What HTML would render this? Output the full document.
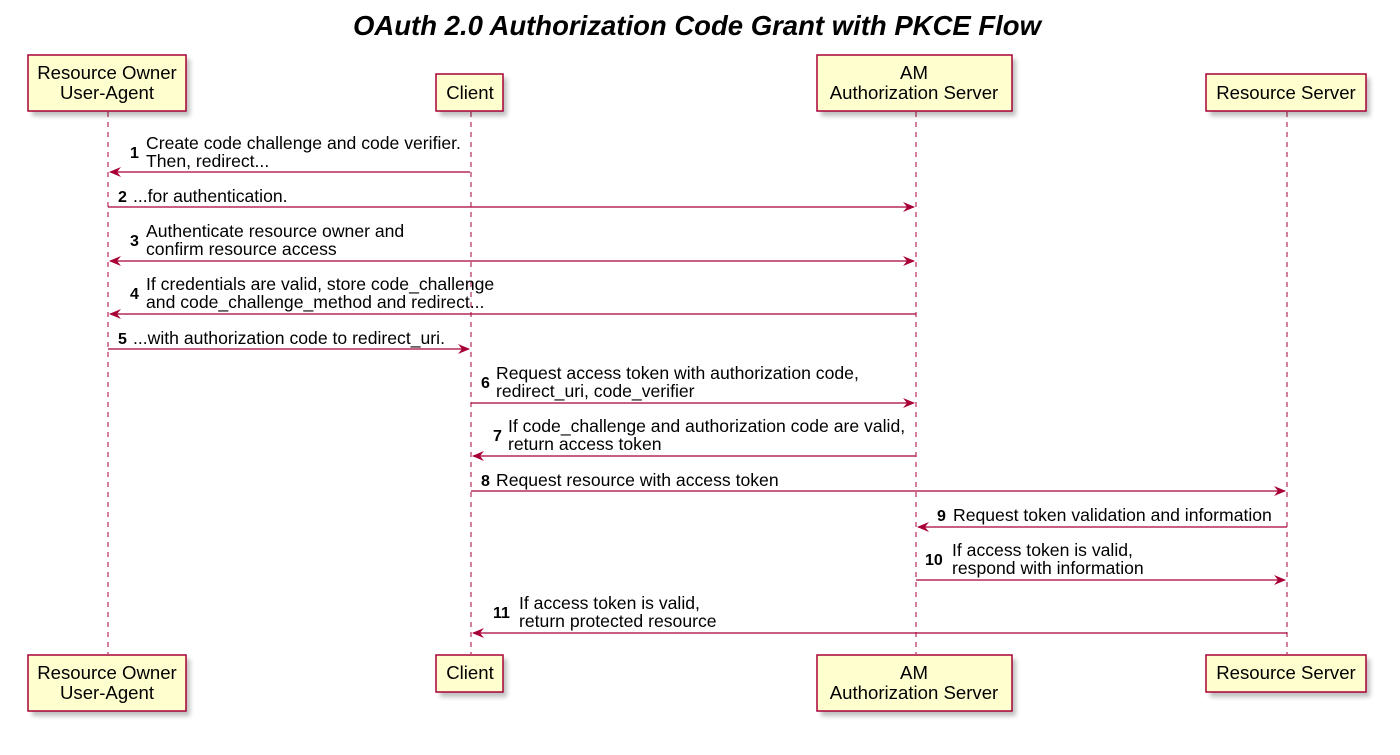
<!DOCTYPE html>
<html><head><meta charset="utf-8"><style>
body{margin:0;background:#fff}
svg{display:block;font-family:"Liberation Sans",Arial,sans-serif}
.t{font-size:17.6px;fill:#000}
.n{font-size:16px;font-weight:bold;fill:#000}
.box{fill:#FEFECE;stroke:#A80036;stroke-width:1.5}
.sh{fill:#000;opacity:0.25;filter:url(#b)}
.ll{stroke:#A80036;stroke-width:1;stroke-dasharray:5,5}
.ar{stroke:#A80036;stroke-width:1.2}
.hd{fill:#A80036}
.pt{font-size:18.6px;text-anchor:middle}
</style></head><body>
<svg width="1400" height="755" viewBox="0 0 1400 755">
<defs><filter id="b"><feGaussianBlur stdDeviation="2.5"/></filter></defs>
<text x="697" y="35" text-anchor="middle" style="font-size:27.5px;font-weight:bold;font-style:italic">OAuth 2.0 Authorization Code Grant with PKCE Flow</text>

<line class="ll" x1="108" y1="112" x2="108" y2="654"/>
<line class="ll" x1="471" y1="112" x2="471" y2="654"/>
<line class="ll" x1="916" y1="112" x2="916" y2="654"/>
<line class="ll" x1="1287" y1="112" x2="1287" y2="654"/>

<g>
<rect class="sh" x="32" y="59" width="158" height="57"/>
<rect class="box" x="28" y="55" width="158" height="56"/>
<text class="pt" x="107" y="79">Resource Owner</text><text class="pt" x="107" y="99">User-Agent</text>
<rect class="sh" x="440" y="78" width="67" height="38"/>
<rect class="box" x="436" y="74" width="67" height="37"/>
<text class="pt" x="470" y="99">Client</text>
<rect class="sh" x="821" y="59" width="195" height="57"/>
<rect class="box" x="817" y="55" width="195" height="56"/>
<text class="pt" x="914" y="79">AM</text><text class="pt" x="914" y="99">Authorization Server</text>
<rect class="sh" x="1210" y="78" width="160" height="38"/>
<rect class="box" x="1206" y="74" width="160" height="37"/>
<text class="pt" x="1286" y="99">Resource Server</text>
</g>
<g>
<rect class="sh" x="32" y="659" width="158" height="57"/>
<rect class="box" x="28" y="655" width="158" height="56"/>
<text class="pt" x="107" y="679">Resource Owner</text><text class="pt" x="107" y="699">User-Agent</text>
<rect class="sh" x="440" y="659" width="67" height="38"/>
<rect class="box" x="436" y="655" width="67" height="37"/>
<text class="pt" x="470" y="679">Client</text>
<rect class="sh" x="821" y="659" width="195" height="57"/>
<rect class="box" x="817" y="655" width="195" height="56"/>
<text class="pt" x="914" y="679">AM</text><text class="pt" x="914" y="699">Authorization Server</text>
<rect class="sh" x="1210" y="659" width="160" height="38"/>
<rect class="box" x="1206" y="655" width="160" height="37"/>
<text class="pt" x="1286" y="679">Resource Server</text>
</g>

<line class="ar" x1="110" y1="172" x2="470" y2="172"/>
<polygon class="hd" points="109,172 121,167 117,172 121,177"/>
<text class="n" x="130" y="158">1</text>
<text class="t" x="146" y="149">Create code challenge and code verifier.</text>
<text class="t" x="146" y="167">Then, redirect...</text>

<line class="ar" x1="108" y1="207" x2="914" y2="207"/>
<polygon class="hd" points="915,207 903,202 907,207 903,212"/>
<text class="n" x="118" y="202">2</text>
<text class="t" x="133" y="202">...for authentication.</text>

<line class="ar" x1="110" y1="261" x2="914" y2="261"/>
<polygon class="hd" points="109,261 121,256 117,261 121,266"/>
<polygon class="hd" points="915,261 903,256 907,261 903,266"/>
<text class="n" x="130" y="246">3</text>
<text class="t" x="146" y="237">Authenticate resource owner and</text>
<text class="t" x="146" y="255">confirm resource access</text>

<line class="ar" x1="110" y1="314" x2="916" y2="314"/>
<polygon class="hd" points="109,314 121,309 117,314 121,319"/>
<text class="n" x="130" y="299">4</text>
<text class="t" x="146" y="290">If credentials are valid, store code_challenge</text>
<text class="t" x="146" y="308">and code_challenge_method and redirect...</text>

<line class="ar" x1="108" y1="349" x2="469" y2="349"/>
<polygon class="hd" points="470,349 458,344 462,349 458,354"/>
<text class="n" x="118" y="344">5</text>
<text class="t" x="133" y="344">...with authorization code to redirect_uri.</text>

<line class="ar" x1="471" y1="403" x2="914" y2="403"/>
<polygon class="hd" points="915,403 903,398 907,403 903,408"/>
<text class="n" x="481" y="388">6</text>
<text class="t" x="496" y="379">Request access token with authorization code,</text>
<text class="t" x="496" y="397">redirect_uri, code_verifier</text>

<line class="ar" x1="473" y1="456" x2="916" y2="456"/>
<polygon class="hd" points="472,456 484,451 480,456 484,461"/>
<text class="n" x="493" y="441">7</text>
<text class="t" x="508" y="432">If code_challenge and authorization code are valid,</text>
<text class="t" x="508" y="450">return access token</text>

<line class="ar" x1="471" y1="491" x2="1285" y2="491"/>
<polygon class="hd" points="1286,491 1274,486 1278,491 1274,496"/>
<text class="n" x="481" y="486">8</text>
<text class="t" x="496" y="486">Request resource with access token</text>

<line class="ar" x1="918" y1="527" x2="1287" y2="527"/>
<polygon class="hd" points="917,527 929,522 925,527 929,532"/>
<text class="n" x="937" y="521">9</text>
<text class="t" x="953" y="521">Request token validation and information</text>

<line class="ar" x1="916" y1="580" x2="1285" y2="580"/>
<polygon class="hd" points="1286,580 1274,575 1278,580 1274,585"/>
<text class="n" x="925" y="565">10</text>
<text class="t" x="952" y="556">If access token is valid,</text>
<text class="t" x="952" y="574">respond with information</text>

<line class="ar" x1="473" y1="633" x2="1287" y2="633"/>
<polygon class="hd" points="472,633 484,628 480,633 484,638"/>
<text class="n" x="493" y="618">11</text>
<text class="t" x="519" y="609">If access token is valid,</text>
<text class="t" x="519" y="627">return protected resource</text>
</svg>
</body></html>
